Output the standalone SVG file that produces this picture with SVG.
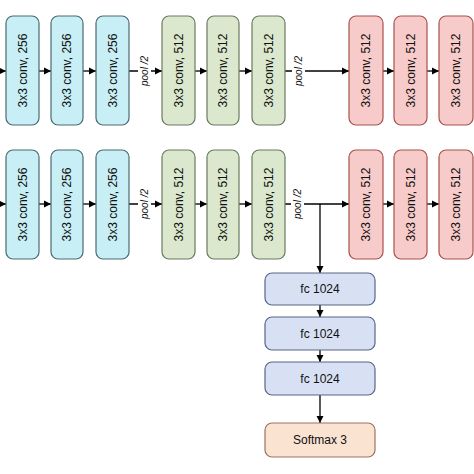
<svg xmlns="http://www.w3.org/2000/svg" width="474" height="474" viewBox="0 0 474 474">
<defs>
<marker id="ah" markerWidth="8" markerHeight="8" refX="7" refY="4" orient="auto" markerUnits="userSpaceOnUse">
<path d="M0,0.5 L7,4 L0,7.5 Z" fill="#000"/>
</marker>
<style>
.c{fill:#c8eff5;stroke:#4a6a70;stroke-width:1.2}
.g{fill:#dbe8cd;stroke:#6a7a60;stroke-width:1.2}
.r{fill:#f7cbc9;stroke:#a8524e;stroke-width:1.2}
.f{fill:#d8e1f3;stroke:#56678a;stroke-width:1.2}
.s{fill:#fbe3d2;stroke:#a07060;stroke-width:1.2}
.t{font-family:"Liberation Sans",Arial,sans-serif;font-size:12px;fill:#111;text-anchor:middle;dominant-baseline:central}
.p{font-family:"Liberation Sans",Arial,sans-serif;font-size:10px;font-style:italic;fill:#111;text-anchor:middle;dominant-baseline:central}
.l{stroke:#000;stroke-width:1.3;fill:none}
</style>
</defs>
<g id="connectors">
<line class="l" x1="0" y1="71" x2="6" y2="71" marker-end="url(#ah)"/>
<line class="l" x1="39" y1="71" x2="51" y2="71" marker-end="url(#ah)"/>
<line class="l" x1="83" y1="71" x2="96" y2="71" marker-end="url(#ah)"/>
<line class="l" x1="129" y1="71" x2="162" y2="71" marker-end="url(#ah)"/>
<line class="l" x1="195" y1="71" x2="207" y2="71" marker-end="url(#ah)"/>
<line class="l" x1="239" y1="71" x2="252" y2="71" marker-end="url(#ah)"/>
<line class="l" x1="285" y1="71" x2="349" y2="71" marker-end="url(#ah)"/>
<line class="l" x1="383" y1="71" x2="394" y2="71" marker-end="url(#ah)"/>
<line class="l" x1="427" y1="71" x2="439" y2="71" marker-end="url(#ah)"/>
<line class="l" x1="0" y1="204" x2="6" y2="204" marker-end="url(#ah)"/>
<line class="l" x1="39" y1="204" x2="51" y2="204" marker-end="url(#ah)"/>
<line class="l" x1="83" y1="204" x2="96" y2="204" marker-end="url(#ah)"/>
<line class="l" x1="129" y1="204" x2="162" y2="204" marker-end="url(#ah)"/>
<line class="l" x1="195" y1="204" x2="207" y2="204" marker-end="url(#ah)"/>
<line class="l" x1="239" y1="204" x2="252" y2="204" marker-end="url(#ah)"/>
<line class="l" x1="285" y1="204" x2="349" y2="204" marker-end="url(#ah)"/>
<line class="l" x1="383" y1="204" x2="394" y2="204" marker-end="url(#ah)"/>
<line class="l" x1="427" y1="204" x2="439" y2="204" marker-end="url(#ah)"/>
<line class="l" x1="320" y1="204" x2="320" y2="273" marker-end="url(#ah)"/>
<line class="l" x1="320" y1="305" x2="320" y2="317" marker-end="url(#ah)"/>
<line class="l" x1="320" y1="350" x2="320" y2="362" marker-end="url(#ah)"/>
<line class="l" x1="320" y1="395" x2="320" y2="423" marker-end="url(#ah)"/>
<rect x="138" y="55" width="13" height="33" fill="#fff"/>
<text class="p" transform="translate(144.5,71) rotate(-90)">pool /2</text>
<rect x="292" y="55" width="13" height="33" fill="#fff"/>
<text class="p" transform="translate(298.5,71) rotate(-90)">pool /2</text>
<rect x="138" y="188" width="13" height="33" fill="#fff"/>
<text class="p" transform="translate(144.5,204) rotate(-90)">pool /2</text>
<rect x="291" y="188" width="13" height="33" fill="#fff"/>
<text class="p" transform="translate(297.5,204) rotate(-90)">pool /2</text>
</g>
<g id="r1c1"><rect class="c" x="6" y="16" width="33" height="109" rx="7"/><text class="t" transform="translate(22.5,70.5) rotate(-90)">3x3 conv, 256</text></g>
<g id="r1c2"><rect class="c" x="51" y="16" width="32" height="109" rx="7"/><text class="t" transform="translate(67,70.5) rotate(-90)">3x3 conv, 256</text></g>
<g id="r1c3"><rect class="c" x="96" y="16" width="33" height="109" rx="7"/><text class="t" transform="translate(112.5,70.5) rotate(-90)">3x3 conv, 256</text></g>
<g id="r1g1"><rect class="g" x="162" y="16" width="33" height="109" rx="7"/><text class="t" transform="translate(178.5,70.5) rotate(-90)">3x3 conv, 512</text></g>
<g id="r1g2"><rect class="g" x="207" y="16" width="32" height="109" rx="7"/><text class="t" transform="translate(223,70.5) rotate(-90)">3x3 conv, 512</text></g>
<g id="r1g3"><rect class="g" x="252" y="16" width="33" height="109" rx="7"/><text class="t" transform="translate(268.5,70.5) rotate(-90)">3x3 conv, 512</text></g>
<g id="r1r1"><rect class="r" x="349" y="16" width="34" height="109" rx="7"/><text class="t" transform="translate(366,70.5) rotate(-90)">3x3 conv, 512</text></g>
<g id="r1r2"><rect class="r" x="394" y="16" width="33" height="109" rx="7"/><text class="t" transform="translate(410.5,70.5) rotate(-90)">3x3 conv, 512</text></g>
<g id="r1r3"><rect class="r" x="439" y="16" width="34" height="109" rx="7"/><text class="t" transform="translate(456,70.5) rotate(-90)">3x3 conv, 512</text></g>
<g id="r2c1"><rect class="c" x="6" y="150" width="33" height="109" rx="7"/><text class="t" transform="translate(22.5,204.5) rotate(-90)">3x3 conv, 256</text></g>
<g id="r2c2"><rect class="c" x="51" y="150" width="32" height="109" rx="7"/><text class="t" transform="translate(67,204.5) rotate(-90)">3x3 conv, 256</text></g>
<g id="r2c3"><rect class="c" x="96" y="150" width="33" height="109" rx="7"/><text class="t" transform="translate(112.5,204.5) rotate(-90)">3x3 conv, 256</text></g>
<g id="r2g1"><rect class="g" x="162" y="150" width="33" height="109" rx="7"/><text class="t" transform="translate(178.5,204.5) rotate(-90)">3x3 conv, 512</text></g>
<g id="r2g2"><rect class="g" x="207" y="150" width="32" height="109" rx="7"/><text class="t" transform="translate(223,204.5) rotate(-90)">3x3 conv, 512</text></g>
<g id="r2g3"><rect class="g" x="252" y="150" width="33" height="109" rx="7"/><text class="t" transform="translate(268.5,204.5) rotate(-90)">3x3 conv, 512</text></g>
<g id="r2r1"><rect class="r" x="349" y="150" width="34" height="109" rx="7"/><text class="t" transform="translate(366,204.5) rotate(-90)">3x3 conv, 512</text></g>
<g id="r2r2"><rect class="r" x="394" y="150" width="33" height="109" rx="7"/><text class="t" transform="translate(410.5,204.5) rotate(-90)">3x3 conv, 512</text></g>
<g id="r2r3"><rect class="r" x="439" y="150" width="34" height="109" rx="7"/><text class="t" transform="translate(456,204.5) rotate(-90)">3x3 conv, 512</text></g>
<g id="fc1"><rect class="f" x="265" y="273" width="110" height="32" rx="7"/><text class="t" x="320" y="289">fc 1024</text></g>
<g id="fc2"><rect class="f" x="265" y="317" width="110" height="33" rx="7"/><text class="t" x="320" y="333.5">fc 1024</text></g>
<g id="fc3"><rect class="f" x="265" y="362" width="110" height="33" rx="7"/><text class="t" x="320" y="378.5">fc 1024</text></g>
<g id="softmax"><rect class="s" x="265" y="423" width="110" height="34" rx="7"/><text class="t" x="320" y="440">Softmax 3</text></g>
</svg>
